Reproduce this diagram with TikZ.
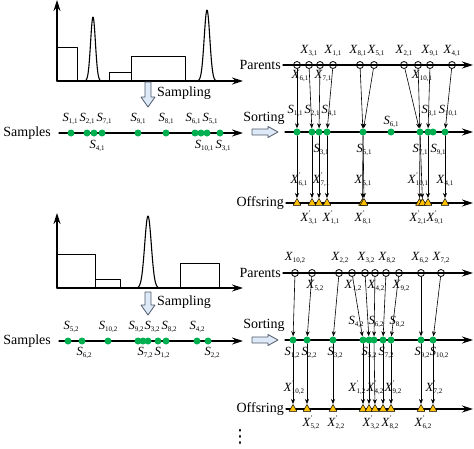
\documentclass[tikz,border=0pt]{standalone}
\usepackage{fontspec}
\setmainfont{Liberation Serif}
\newfontfamily\symfont{DejaVu Sans}
\usetikzlibrary{arrows.meta}
\usetikzlibrary{shapes.geometric}
\definecolor{dotgreen}{RGB}{0,176,80}
\definecolor{trigold}{RGB}{255,192,0}
\definecolor{arrowfill}{RGB}{222,234,247}
\definecolor{arrowline}{RGB}{80,90,105}
\newcommand{\lsub}[1]{\raisebox{-2.5pt}{\fontsize{7}{8}\selectfont #1}}
\newcommand{\smp}[1]{\textit{S}\lsub{#1}}
\newcommand{\chd}[1]{\textit{X}\lsub{#1}}
\newcommand{\off}[1]{\textit{X}\rlap{\raisebox{5.5pt}{\fontsize{7}{8}\selectfont '}}\lsub{#1}}

\begin{document}
\begin{tikzpicture}[x=1pt, y=-1pt, line cap=round, line join=round,
    >={Stealth[length=5pt,width=4pt]},
    word/.style={font=\fontsize{14}{16}\selectfont, inner sep=0pt},
    lab/.style={font=\fontsize{12.5}{14}\selectfont, inner sep=0pt},
    pnode/.style={circle, draw, line width=0.8pt, inner sep=0pt, minimum size=7pt},
    gnode/.style={circle, fill=dotgreen, inner sep=0pt, minimum size=7pt},
    onode/.style={regular polygon, regular polygon sides=3, draw, line width=0.5pt, fill=trigold, inner sep=0pt, minimum size=9pt},
    axis/.style={line width=1.2pt, -{Stealth[length=11pt,width=7pt]}},
    curve/.style={line width=0.9pt},
    link/.style={line width=0.6pt, ->},
    hollow/.style={draw=arrowline, fill=arrowfill, line width=0.8pt}]
  \useasboundingbox (0,0) rectangle (474,448);

  %--- Top: function
    \draw[axis] (57,81) -- (57,0);
    \draw[axis] (57,81) -- (243,81);
    \draw[curve] (57,81) rectangle (77,47);
    \draw[curve] (109,81) rectangle (131,72);
    \draw[curve] (131,81) rectangle (185,56);
    \draw[curve, line width=1.1pt] plot[domain=85:101, samples=50] (\x, {81-64*exp(0-0.5*((\x-93)/2.4)^2)});
    \draw[curve, line width=1.1pt] plot[domain=197:217, samples=50] (\x, {81-71*exp(0-0.5*((\x-207)/2.8)^2)});
  %--- Top: sampling
    \draw[hollow] (145,82) -- (151,82) -- (151,97) -- (155,97) -- (148,107) -- (141,97) -- (145,97) -- cycle;
    \node[word, anchor=west] (sampling1) at (157,93) {Sampling};
  %--- Top: samples
    \node[word, anchor=east] (samples1) at (51,133) {Samples};
    \draw[axis] (59,133) -- (243,133);
    \foreach \i/\x in {1/71, 2/87, 4/94, 7/102, 9/138, 8/166, 6/195, 10/201, 5/207, 3/220}
      \node[gnode] (ta\i) at (\x,133) {};
    \foreach \i/\x/\y in {1/70/119, 2/87/119, 7/104/119, 9/138/119, 8/166/119, 6/193/119, 5/210/119, 4/97/146, 10/204/146, 3/223/146}
      \node[lab] (tal\i) at (\x,\y) {\smp{\i,1}};
  %--- Top: parents
    \node[word, anchor=east] (parents1) at (281,65) {Parents};
    \draw[axis] (283,65) -- (473,65);
    \foreach \i/\x in {6/297, 3/309, 7/320, 1/333, 8/360, 5/374, 2/404, 10/418, 9/430, 4/452}
      \node[pnode] (tp\i) at (\x,65) {};
    \foreach \i/\x/\y in {3/309/51, 1/333/51, 8/358/51, 5/376/51, 2/404/51, 9/430/51, 4/452/51, 6/300/76, 7/323/76, 10/422/76}
      \node[lab] (tpl\i) at (\x,\y) {\chd{\i,1}};
  %--- Top: sorting
    \node[word] (sorting1) at (264,118) {Sorting};
    \draw[hollow] (252,129) -- (268,129) -- (268,126.5) -- (278,132) -- (268,137.5) -- (268,135) -- (252,135) -- cycle;
    \draw[axis] (285,132) -- (473,132);
    \foreach \i/\x in {1/297, 2/312, 3/319, 4/327, 5/363, 6/391, 7/420, 8/428, 9/433, 10/445}
      \node[gnode] (ts\i) at (\x,132) {};
    \foreach \i/\x/\y in {1/295/111, 2/312/111, 4/329/111, 6/391/122, 8/429/111, 10/448/111, 3/321/150, 5/364/150, 7/420/150, 9/438/150}
      \node[lab] (tsl\i) at (\x,\y) {\smp{\i,1}};
  %--- Top: offspring
    \node[word, anchor=east] (offspring1) at (284,203) {Offsring};
    \draw[axis] (286,203) -- (473,203);
    \foreach \i/\x in {6/297, 3/312, 7/319, 1/327, 5/362.5, 8/364, 10/419.5, 2/422.5, 9/428, 4/445}
      \node[onode] (to\i) at (\x,203) {};
    \foreach \i/\x/\y in {6/299/180, 7/321/180, 5/363/180, 10/418/180, 4/445/180, 3/309/218, 1/331/218, 8/363/218, 2/418/218, 9/435/218}
      \node[lab] (tol\i) at (\x,\y) {\off{\i,1}};
  %--- Top: links
    \foreach \a/\b in {6/1, 3/2, 7/3, 1/4, 8/5, 5/5, 2/7, 10/7, 9/8, 4/10}
      \draw[link] (tp\a) -- (ts\b);
    \foreach \a/\b in {1/6, 2/3, 3/7, 4/1, 5/5, 5/8, 7/10, 7/2, 8/9, 10/4}
      \draw[link] (ts\a) -- (to\b);

  %--- Bottom: function
    \draw[axis] (57,288) -- (57,213);
    \draw[axis] (57,288) -- (243,288);
    \draw[curve] (57,288) rectangle (95,254);
    \draw[curve] (95,288) rectangle (120,279);
    \draw[curve] (180,288) rectangle (219,263);
    \draw[curve, line width=1.1pt] plot[domain=135:161, samples=60] (\x, {288-72*exp(0-0.5*((\x-148)/3.3)^2)});
  %--- Bottom: sampling
    \draw[hollow] (145,292) -- (151,292) -- (151,305) -- (155,305) -- (148,315) -- (141,305) -- (145,305) -- cycle;
    \node[word, anchor=west] (sampling2) at (157,302) {Sampling};
  %--- Bottom: samples
    \node[word, anchor=east] (samples2) at (51,341) {Samples};
    \draw[axis] (59,341) -- (243,341);
    \foreach \i/\x in {5/68, 6/82, 10/108, 9/138, 7/143, 3/148, 1/158, 8/166, 4/197, 2/208}
      \node[gnode] (ba\i) at (\x,341) {};
    \foreach \i/\x/\y in {5/71/327, 10/108/327, 9/136/327, 3/152/327, 8/169/327, 4/197/327, 6/84/353, 7/145/353, 1/162/353, 2/212/353}
      \node[lab] (bal\i) at (\x,\y) {\smp{\i,2}};
  %--- Bottom: parents
    \node[word, anchor=east] (parents2) at (281,273) {Parents};
    \draw[axis] (283,273) -- (473,273);
    \foreach \i/\x in {10/295, 5/312, 2/339, 1/352, 3/365, 4/375, 8/386, 9/399, 6/421, 7/441}
      \node[pnode] (bp\i) at (\x,273) {};
    \foreach \i/\x/\y in {10/295/258, 2/340/258, 3/366/258, 8/387/258, 6/420/258, 7/441/258, 5/315/286, 1/353/286, 4/376/286, 9/401/286}
      \node[lab] (bpl\i) at (\x,\y) {\chd{\i,2}};
  %--- Bottom: sorting
    \node[word] (sorting2) at (264,325) {Sorting};
    \draw[hollow] (252,337) -- (268,337) -- (268,334.5) -- (278,340) -- (268,345.5) -- (268,343) -- (252,343) -- cycle;
    \draw[axis] (285,340) -- (473,340);
    \foreach \i/\x in {1/293, 2/307, 3/333, 4/363, 5/369, 6/374, 7/383, 8/391, 9/421, 10/433}
      \node[gnode] (bs\i) at (\x,340) {};
    \foreach \i/\x/\y in {4/356/322, 6/376/322, 8/397/322, 1/292/353, 2/309/353, 3/335/353, 5/369/353, 7/386/353, 9/422/353, 10/439/353}
      \node[lab] (bsl\i) at (\x,\y) {\smp{\i,2}};
  %--- Bottom: offspring
    \node[word, anchor=east] (offspring2) at (284,409) {Offsring};
    \draw[axis] (286,409) -- (473,409);
    \foreach \i/\x in {10/293, 5/307, 2/333, 1/363, 3/369, 4/375, 8/383, 9/391, 6/421, 7/433}
      \node[onode] (bo\i) at (\x,409) {};
    \foreach \i/\x/\y in {10/294/388, 1/357/388, 4/375/388, 9/393/388, 7/434/388, 5/311/423, 2/336/423, 3/371/423, 8/390/423, 6/423/423}
      \node[lab] (bol\i) at (\x,\y) {\off{\i,2}};
  %--- Bottom: links
    \foreach \a/\b in {10/1, 5/2, 2/3, 1/4, 3/5, 4/6, 8/7, 9/8, 6/9, 7/10}
      \draw[link] (bp\a) -- (bs\b);
    \foreach \a/\b in {1/10, 2/5, 3/2, 4/1, 5/3, 6/4, 7/8, 8/9, 9/6, 10/7}
      \draw[link] (bs\a) -- (bo\b);

  %--- More rounds
    \node[font=\symfont\fontsize{18}{20}\selectfont, inner sep=0pt] (more) at (240,437) {⋮};
\end{tikzpicture}
\end{document}
